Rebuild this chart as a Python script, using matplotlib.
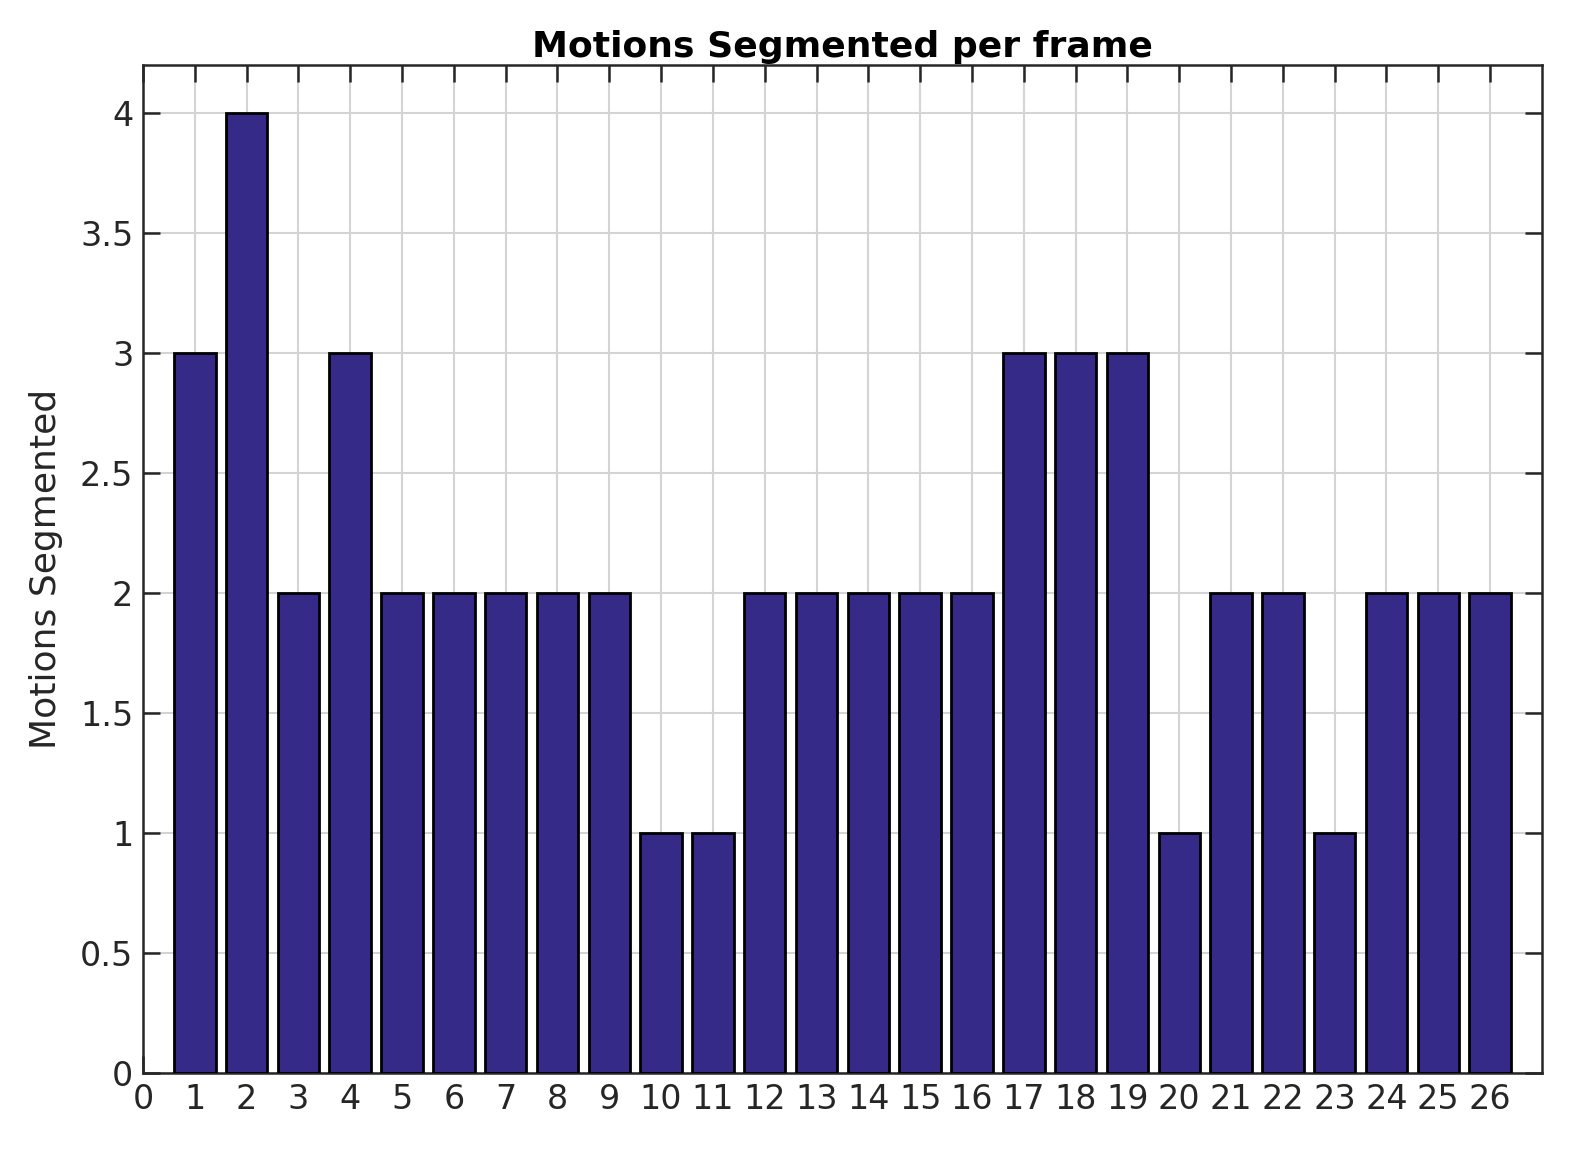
import numpy as np
import matplotlib.pyplot as plt

# motions segmented per frame
frames = list(range(1, 27))
motions = [3, 4, 2, 3, 2, 2, 2, 2, 2, 1, 1, 2, 2, 2, 2, 2, 3, 3, 3, 1, 2, 2, 1, 2, 2, 2]

fig = plt.figure(figsize=(15.71, 11.58), dpi=100)
ax = fig.add_axes([0.091, 0.0734, 0.8905, 0.8705])

ax.bar(frames, motions, width=0.8, color='#352a87', edgecolor='black', linewidth=2, zorder=3)

ax.set_xlim(0, 27)
ax.set_ylim(0, 4.2)
ax.set_xticks(range(0, 27))
ax.set_yticks(np.arange(0, 4.01, 0.5))
ax.set_yticklabels(['0', '0.5', '1', '1.5', '2', '2.5', '3', '3.5', '4'])
ax.grid(True, color='#d4d4d4', linewidth=1.5, zorder=0)
ax.tick_params(direction='in', top=True, right=True, length=12, width=1.8,
               labelsize=24, colors='#262626', pad=7)
for s in ax.spines.values():
    s.set_linewidth(1.8)
    s.set_color('#262626')

ax.set_title('Motions Segmented per frame', fontsize=26, fontweight='bold', pad=6)
ax.set_ylabel('Motions Segmented', fontsize=26, color='#262626', labelpad=12)

fig.savefig('out.png', dpi=100)
